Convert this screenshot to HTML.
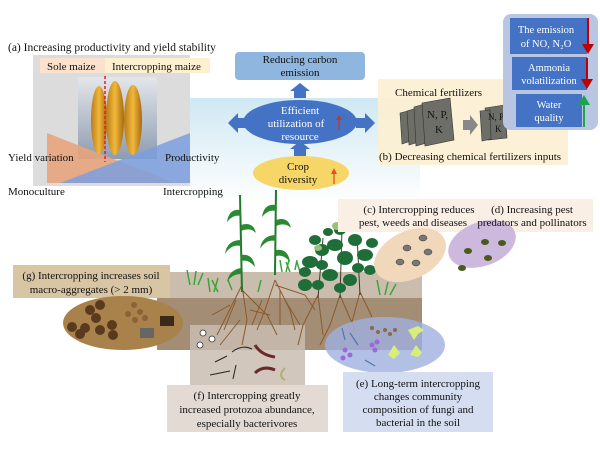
<!DOCTYPE html>
<html><head><meta charset="utf-8"><style>
html,body{margin:0;padding:0;background:#fff;}
svg{display:block;}
text{font-family:"Liberation Serif",serif;fill:#111;}
</style></head><body>
<svg width="600" height="450" viewBox="0 0 600 450" xmlns="http://www.w3.org/2000/svg">
<defs>
<linearGradient id="lb" x1="0" y1="0" x2="0" y2="1">
<stop offset="0" stop-color="#cfe8f3"/><stop offset="1" stop-color="#ffffff"/>
</linearGradient>
<linearGradient id="corn" x1="0" y1="0" x2="1" y2="0">
<stop offset="0" stop-color="#b97c18"/><stop offset="0.5" stop-color="#f0b83a"/><stop offset="1" stop-color="#a86a12"/>
</linearGradient>
<linearGradient id="photo" x1="0" y1="0" x2="0" y2="1">
<stop offset="0" stop-color="#e4e6ea"/><stop offset="1" stop-color="#8e9cb0"/>
</linearGradient>
</defs>
<rect x="190" y="98" width="230" height="105" fill="url(#lb)"/>

<!-- (a) -->
<text x="8" y="51" font-size="11.5">(a) Increasing productivity and yield stability</text>
<rect x="33" y="55" width="157" height="131" fill="#dcdcdc"/>
<rect x="40" y="58" width="65" height="15" fill="#fbe2cf"/>
<rect x="105" y="58" width="105" height="15" fill="#fdf0d0"/>
<text x="47" y="70" font-size="11">Sole maize</text>
<text x="112" y="70" font-size="11">Intercropping maize</text>
<rect x="78" y="77" width="79" height="82" fill="url(#photo)"/>
<ellipse cx="99" cy="120" rx="8" ry="34" fill="url(#corn)"/>
<ellipse cx="115" cy="118" rx="9" ry="37" fill="url(#corn)"/>
<ellipse cx="133" cy="120" rx="9" ry="35" fill="url(#corn)"/>
<polygon points="47,133 47,183 175,183" fill="#e7a57c" opacity="0.9"/>
<polygon points="190,133 190,183 60,183" fill="#7b9fde" opacity="0.85"/>
<line x1="105" y1="76" x2="105" y2="162" stroke="#e02020" stroke-width="1.5" stroke-dasharray="3,2"/>
<text x="8" y="161" font-size="11">Yield variation</text>
<text x="165" y="161" font-size="11">Productivity</text>
<text x="8" y="195" font-size="11">Monoculture</text>
<text x="163" y="195" font-size="11">Intercropping</text>

<!-- center -->
<rect x="235" y="52" width="130" height="28" rx="4" fill="#8fb6df"/>
<text x="300" y="63" font-size="11" text-anchor="middle">Reducing carbon</text>
<text x="300" y="76" font-size="11" text-anchor="middle">emission</text>
<polygon points="294,98 294,91 290,91 300,83 310,91 306,91 306,98" fill="#4472c4"/>
<polygon points="294,156 294,149 290,149 300,141 310,149 306,149 306,156" fill="#4472c4"/>
<polygon points="246,118 238,118 238,113 228,123 238,133 238,128 246,128" fill="#4472c4"/>
<polygon points="356,118 365,118 365,113 375,123 365,133 365,128 356,128" fill="#4472c4"/>
<ellipse cx="300" cy="122" rx="57" ry="22" fill="#4472c4"/>
<text x="300" y="114" font-size="11" text-anchor="middle" style="fill:#fff">Efficient</text>
<text x="296" y="127" font-size="11" text-anchor="middle" style="fill:#fff">utilization of</text>
<text x="300" y="140" font-size="11" text-anchor="middle" style="fill:#fff">resource</text>
<line x1="339" y1="130" x2="339" y2="119" stroke="#c0392b" stroke-width="1.3"/><polygon points="336,120 342,120 339,115" fill="#c0392b"/>
<ellipse cx="301" cy="173" rx="48" ry="17" fill="#f5d667"/>
<text x="298" y="170" font-size="11" text-anchor="middle">Crop</text>
<text x="298" y="183" font-size="11" text-anchor="middle">diversity</text>
<line x1="334" y1="184" x2="334" y2="173" stroke="#e0541b" stroke-width="1.3"/><polygon points="331,174 337,174 334,168" fill="#e0541b"/>

<!-- (b) -->
<rect x="378" y="79" width="190" height="86" fill="#fcefd2" opacity="0.9"/>
<text x="395" y="96" font-size="11">Chemical fertilizers</text>
<g fill="#6e6e68" stroke="#333" stroke-width="0.6">
<path d="M400 113 L412 110 L414 140 L402 144 Z"/>
<path d="M407 111 L420 107 L422 141 L409 145 Z"/>
<path d="M414 107 L428 103 L430 142 L416 146 Z"/>
<path d="M422 103 L450 98 L454 140 L425 146 Z"/>
<path d="M485 108 L505 105 L507 138 L488 140 Z"/>
<path d="M480 111 L490 110 L491 139 L482 141 Z"/>
</g>
<text x="427" y="118" font-size="11">N, P,</text>
<text x="435" y="133" font-size="11">K</text>
<text x="488" y="120" font-size="9">N, P,</text>
<text x="495" y="132" font-size="9">K</text>
<polygon points="463,120 470,120 470,115 478,125 470,135 470,130 463,130" fill="#888"/>
<text x="379" y="160" font-size="11">(b) Decreasing chemical fertilizers inputs</text>

<!-- right panel -->
<rect x="503" y="14" width="95" height="116" rx="8" fill="#b9c6e2"/>
<rect x="510" y="18" width="77" height="36" fill="#4472c4"/>
<text x="546" y="33" font-size="10.5" text-anchor="middle" style="fill:#fff">The emission</text>
<text x="546" y="47" font-size="10.5" text-anchor="middle" style="fill:#fff">of NO, N₂O</text>
<rect x="512" y="57" width="75" height="33" fill="#4472c4"/>
<text x="549" y="71" font-size="10.5" text-anchor="middle" style="fill:#fff">Ammonia</text>
<text x="549" y="84" font-size="10.5" text-anchor="middle" style="fill:#fff">volatilization</text>
<rect x="516" y="94" width="66" height="33" fill="#4472c4"/>
<text x="549" y="108" font-size="10.5" text-anchor="middle" style="fill:#fff">Water</text>
<text x="549" y="121" font-size="10.5" text-anchor="middle" style="fill:#fff">quality</text>
<line x1="588" y1="18" x2="588" y2="45" stroke="#c00000" stroke-width="2"/><polygon points="582,44 594,44 588,54" fill="#c00000"/>
<line x1="587" y1="58" x2="587" y2="80" stroke="#c00000" stroke-width="2"/><polygon points="581,79 593,79 587,89" fill="#c00000"/>
<line x1="584" y1="127" x2="584" y2="104" stroke="#1fa34a" stroke-width="2"/><polygon points="578,105 590,105 584,95" fill="#1fa34a"/>

<!-- soil -->
<rect x="170" y="272" width="252" height="27" fill="#cbbdae"/>
<rect x="157" y="298" width="265" height="52" fill="#a48d75"/>
<rect x="190" y="325" width="115" height="60" fill="#c9bdb2" opacity="0.85"/>

<g stroke="#8a5a2b" stroke-width="1" fill="none">
<path d="M242 285 l-15 30 l-10 20 M242 285 l5 35 l-5 25 M242 290 l25 25 l10 20 M230 305 l-18 10 M250 310 l20 5 M240 320 l-20 25 M236 300 l-12 30"/>
<path d="M275 280 l-10 30 l-8 20 M275 280 l15 30 l5 20 M275 285 l30 10 l10 15 M262 300 l-10 25 M285 300 l15 25 M280 290 l0 35"/>
<path d="M318 295 l-15 30 l-5 20 M318 295 l5 40 M340 295 l-10 30 l-10 20 M340 295 l15 35 M360 292 l-8 30 M360 292 l12 25"/>
</g>
<g stroke="#3aa53a" stroke-width="1.5" fill="none">
<path d="M190 285 l-3 -15 M194 285 l2 -14 M198 285 l5 -12 M210 292 l-2 -14 M214 292 l4 -14 M218 292 l-6 -12 M282 272 l-2 -12 M286 272 l3 -12 M290 272 l-4 -10 M380 295 l-3 -15 M385 295 l3 -13 M390 295 l6 -11 M232 290 l-4 -10 M258 292 l3 -12 M295 270 l2 -10 M300 272 l-3 -10"/>
</g>
<g stroke="#1f7a2a" stroke-width="2" fill="none">
<path d="M242 292 L240 195"/>
<path d="M275 275 L276 190"/>
</g>
<g fill="#2a8a33">
<path d="M241 210 q-12 -2 -14 12 q6 -8 14 -6z"/><path d="M241 225 q12 -4 15 8 q-6 -6 -15 -2z"/><path d="M241 240 q-14 0 -16 14 q6 -10 16 -8z"/><path d="M241 255 q12 -2 14 12 q-6 -8 -14 -6z"/><path d="M241 268 q-12 2 -14 14 q5 -8 14 -8z"/>
<path d="M276 205 q-12 -2 -14 12 q6 -8 14 -6z"/><path d="M276 220 q12 -4 15 8 q-6 -6 -15 -2z"/><path d="M276 235 q-14 0 -16 14 q6 -10 16 -8z"/><path d="M276 250 q12 -2 14 12 q-6 -8 -14 -6z"/>
</g>
<!-- soybean -->
<g stroke="#3a3a2a" stroke-width="1" fill="none"><path d="M318 298 l5 -60 M340 298 l2 -70 M360 295 l-3 -60"/></g>
<g fill="#1f6e3a">
<ellipse cx="310" cy="262" rx="8" ry="6"/><ellipse cx="322" cy="250" rx="7" ry="6"/><ellipse cx="335" cy="245" rx="8" ry="6"/><ellipse cx="345" cy="258" rx="8" ry="7"/><ellipse cx="355" cy="240" rx="7" ry="6"/><ellipse cx="365" cy="255" rx="8" ry="6"/><ellipse cx="305" cy="285" rx="7" ry="6"/><ellipse cx="330" cy="275" rx="8" ry="6"/><ellipse cx="350" cy="280" rx="7" ry="6"/><ellipse cx="340" cy="230" rx="6" ry="5"/><ellipse cx="315" cy="240" rx="6" ry="5"/><ellipse cx="370" cy="270" rx="6" ry="5"/>
<ellipse cx="305" cy="272" rx="6" ry="5"/><ellipse cx="322" cy="265" rx="6" ry="5"/><ellipse cx="358" cy="268" rx="6" ry="5"/><ellipse cx="372" cy="243" rx="6" ry="5"/><ellipse cx="328" cy="232" rx="5" ry="4"/><ellipse cx="318" cy="285" rx="6" ry="5"/><ellipse cx="340" cy="288" rx="6" ry="5"/>
</g>
<g fill="#9cbf80"><ellipse cx="337" cy="226" rx="5" ry="4"/><ellipse cx="352" cy="228" rx="5" ry="4"/><ellipse cx="318" cy="248" rx="4" ry="3"/></g>

<!-- (g) -->
<rect x="13" y="265" width="157" height="33" fill="#d8c5a4"/>
<text x="91" y="279" font-size="11" text-anchor="middle">(g) Intercropping increases soil</text>
<text x="91" y="293" font-size="11" text-anchor="middle">macro-aggregates (&gt; 2 mm)</text>
<ellipse cx="123" cy="323" rx="60" ry="27" fill="#a9824b"/>
<g fill="#5a3a1e"><circle cx="90" cy="310" r="5"/><circle cx="100" cy="305" r="5"/><circle cx="96" cy="318" r="5"/><circle cx="85" cy="328" r="5"/><circle cx="72" cy="327" r="5"/><circle cx="100" cy="330" r="5"/><circle cx="112" cy="325" r="5"/><circle cx="80" cy="334" r="5"/><circle cx="113" cy="335" r="5"/></g>
<g fill="#8a6238"><circle cx="134" cy="305" r="3"/><circle cx="140" cy="312" r="3"/><circle cx="128" cy="314" r="3"/><circle cx="145" cy="318" r="3"/><circle cx="135" cy="320" r="3"/></g>
<g fill="#3a2a1a"><rect x="160" y="316" width="14" height="10"/><rect x="140" y="328" width="14" height="10" fill="#666"/></g>

<!-- (f) bugs -->
<g stroke="#222" stroke-width="1" fill="none">
<path d="M232 352 q10 -8 20 -3"/><path d="M255 345 q6 10 20 12" stroke="#6a2a2a" stroke-width="3"/><path d="M255 373 q8 -8 20 -3" stroke="#6a2a2a" stroke-width="3"/><path d="M215 362 l12 -6"/><path d="M210 375 l20 -4"/><path d="M236 365 l-3 14"/><path d="M285 380 q-8 -4 0 -12" stroke="#b0b070" stroke-width="2"/>
</g>
<g fill="#fff" stroke="#333" stroke-width="0.8"><circle cx="203" cy="333" r="3"/><circle cx="212" cy="339" r="3"/><circle cx="200" cy="345" r="3"/></g>

<!-- (e) -->
<ellipse cx="385" cy="345" rx="60" ry="28" fill="#9fb0e0" opacity="0.8"/>
<g fill="#9a6bd8"><circle cx="345" cy="350" r="2.5"/><circle cx="350" cy="355" r="2.5"/><circle cx="343" cy="358" r="2.5"/><circle cx="372" cy="345" r="2.5"/><circle cx="377" cy="342" r="2.5"/><circle cx="375" cy="350" r="2.5"/></g>
<g fill="#8a6a4a"><circle cx="372" cy="328" r="2"/><circle cx="378" cy="332" r="2"/><circle cx="385" cy="330" r="2"/><circle cx="390" cy="334" r="2"/><circle cx="395" cy="330" r="2"/></g>
<g fill="#d8ee7a"><path d="M408 330 l10 -4 l6 4 l-6 4 l-4 6z"/><path d="M410 355 l6 -10 l6 8 l-4 4z"/><path d="M388 355 l6 -10 l6 8 l-6 6z"/></g>
<g stroke="#4a7ab0" stroke-width="1.2"><line x1="342" y1="328" x2="345" y2="340"/><line x1="350" y1="333" x2="358" y2="345"/><line x1="365" y1="360" x2="375" y2="366"/></g>

<rect x="167" y="385" width="161" height="47" fill="#e2dad3"/>
<text x="247" y="399" font-size="11" text-anchor="middle">(f) Intercropping greatly</text>
<text x="247" y="413" font-size="11" text-anchor="middle">increased protozoa abundance,</text>
<text x="247" y="427" font-size="11" text-anchor="middle">especially bacterivores</text>
<rect x="343" y="372" width="150" height="60" fill="#d5ddf1"/>
<text x="418" y="387" font-size="11" text-anchor="middle">(e) Long-term intercropping</text>
<text x="418" y="400" font-size="11" text-anchor="middle">changes community</text>
<text x="418" y="413" font-size="11" text-anchor="middle">composition of fungi and</text>
<text x="418" y="426" font-size="11" text-anchor="middle">bacterial in the soil</text>

<!-- (c),(d) -->
<rect x="338" y="199" width="255" height="33" fill="#f9efe5"/>
<ellipse cx="410" cy="255" rx="38" ry="24" fill="#f2d8bb" transform="rotate(-25 410 255)"/>
<ellipse cx="482" cy="244" rx="35" ry="22" fill="#cdb8de" transform="rotate(-20 482 244)"/>
<g fill="#777" stroke="#333" stroke-width="0.5"><ellipse cx="423" cy="238" rx="4" ry="3"/><ellipse cx="407" cy="248" rx="4" ry="3"/><ellipse cx="428" cy="252" rx="4" ry="3"/><ellipse cx="400" cy="262" rx="4" ry="3"/><ellipse cx="416" cy="263" rx="4" ry="3"/></g>
<g fill="#4a5a1a"><ellipse cx="468" cy="251" rx="4" ry="3"/><ellipse cx="485" cy="242" rx="4" ry="3"/><ellipse cx="502" cy="243" rx="4" ry="3"/><ellipse cx="488" cy="258" rx="4" ry="3"/><ellipse cx="462" cy="268" rx="4" ry="3"/></g>
<text x="419" y="213" font-size="11" text-anchor="middle">(c) Intercropping reduces</text>
<text x="413" y="226" font-size="11" text-anchor="middle">pest, weeds and diseases</text>
<text x="532" y="213" font-size="11" text-anchor="middle">(d) Increasing pest</text>
<text x="532" y="226" font-size="11" text-anchor="middle">predators and pollinators</text>
</svg>
</body></html>
